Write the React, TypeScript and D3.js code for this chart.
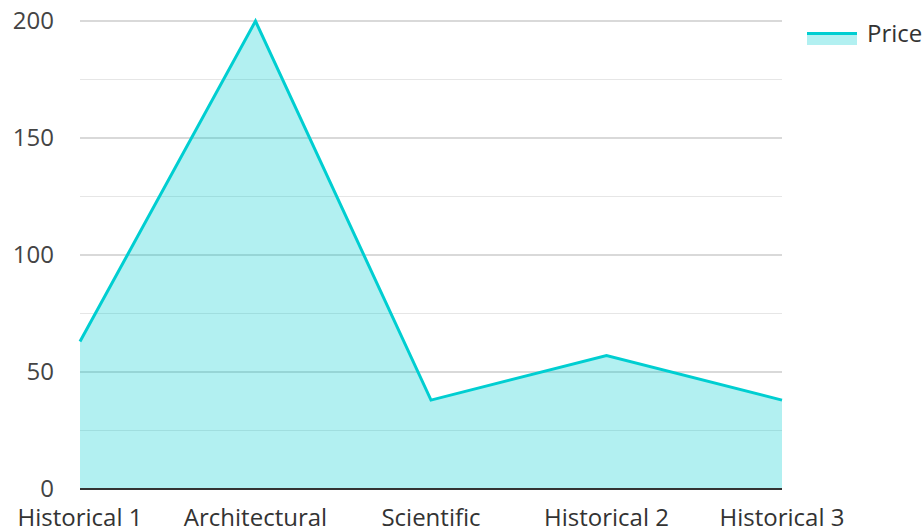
import { useRef, useEffect } from 'react';
import * as d3 from 'd3';

const categories = ['Historical 1', 'Architectural', 'Scientific', 'Historical 2', 'Historical 3'];
const prices = [63, 200, 38, 57, 38];
const majorTicks = [0, 50, 100, 150, 200];
const minorTicks = [25, 75, 125, 175];
const seriesName = 'Price';

const WIDTH = 924;
const HEIGHT = 528;
const LINE_COLOR = '#00CED1';
const FONT = '"Open Sans", "Noto Sans", sans-serif';

export default function App() {
  const svgRef = useRef<SVGSVGElement | null>(null);

  useEffect(() => {
    if (!svgRef.current) return;
    const svg = d3.select(svgRef.current);
    svg.selectAll('*').remove();

    const margin = { top: 21, right: 142, bottom: 39, left: 80 };
    const innerWidth = WIDTH - margin.left - margin.right;
    const innerHeight = HEIGHT - margin.top - margin.bottom;

    const x = d3.scalePoint<string>().domain(categories).range([0, innerWidth]).padding(0);
    const y = d3.scaleLinear().domain([0, 200]).range([innerHeight, 0]);

    const g = svg.append('g').attr('transform', `translate(${margin.left},${margin.top})`);

    // grid
    g.selectAll('line.minor')
      .data(minorTicks)
      .join('line')
      .attr('class', 'minor')
      .attr('x1', 0)
      .attr('x2', innerWidth)
      .attr('y1', (d) => y(d))
      .attr('y2', (d) => y(d))
      .attr('stroke', '#e6e6e6')
      .attr('stroke-width', 1);

    g.selectAll('line.major')
      .data(majorTicks.filter((d) => d !== 0))
      .join('line')
      .attr('class', 'major')
      .attr('x1', 0)
      .attr('x2', innerWidth)
      .attr('y1', (d) => y(d))
      .attr('y2', (d) => y(d))
      .attr('stroke', '#cccccc')
      .attr('stroke-width', 1.5);

    const data = categories.map((c, i) => ({ c, v: prices[i] }));

    const area = d3
      .area<{ c: string; v: number }>()
      .x((d) => x(d.c)!)
      .y0(y(0))
      .y1((d) => y(d.v));

    const line = d3
      .line<{ c: string; v: number }>()
      .x((d) => x(d.c)!)
      .y((d) => y(d.v));

    g.append('path').datum(data).attr('fill', LINE_COLOR).attr('fill-opacity', 0.3).attr('d', area);

    g.append('path')
      .datum(data)
      .attr('fill', 'none')
      .attr('stroke', LINE_COLOR)
      .attr('stroke-width', 3)
      .attr('stroke-linejoin', 'miter')
      .attr('d', line);

    // x axis line
    g.append('line')
      .attr('x1', 0)
      .attr('x2', innerWidth)
      .attr('y1', innerHeight)
      .attr('y2', innerHeight)
      .attr('stroke', '#333333')
      .attr('stroke-width', 2);

    // y labels
    g.selectAll('text.ylab')
      .data(majorTicks)
      .join('text')
      .attr('class', 'ylab')
      .attr('x', -26)
      .attr('y', (d) => y(d))
      .attr('dy', '0.35em')
      .attr('text-anchor', 'end')
      .attr('font-family', FONT)
      .attr('font-size', 24)
      .attr('fill', '#444444')
      .text((d) => d);

    // x labels
    g.selectAll('text.xlab')
      .data(categories)
      .join('text')
      .attr('class', 'xlab')
      .attr('x', (d) => x(d)!)
      .attr('y', innerHeight + 37)
      .attr('text-anchor', 'middle')
      .attr('font-family', FONT)
      .attr('font-size', 24)
      .attr('fill', '#333333')
      .text((d) => d);

    // legend
    const lg = svg.append('g').attr('transform', 'translate(807,32)');
    lg.append('rect').attr('x', 0).attr('y', 0).attr('width', 50).attr('height', 13).attr('fill', LINE_COLOR).attr('fill-opacity', 0.3);
    lg.append('rect').attr('x', 0).attr('y', 0).attr('width', 50).attr('height', 3).attr('fill', LINE_COLOR);
    lg.append('text')
      .attr('x', 60)
      .attr('y', 10)
      .attr('font-family', FONT)
      .attr('font-size', 24)
      .attr('fill', '#333333')
      .text(seriesName);
  }, []);

  return (
    <svg
      ref={svgRef}
      width={WIDTH}
      height={HEIGHT}
      style={{ position: 'absolute', left: 0, top: 0 }}
    />
  );
}
